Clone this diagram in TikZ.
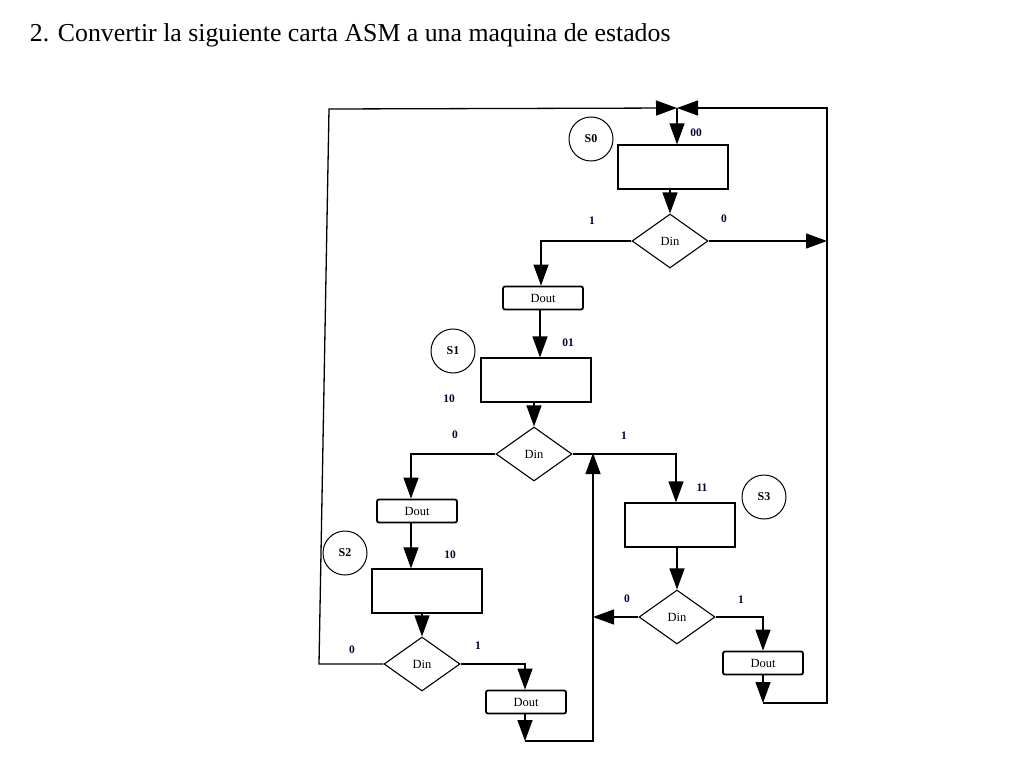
\documentclass[tikz,border=0pt]{standalone}
\usepackage{fontspec}
\setmainfont{Liberation Serif}
\usetikzlibrary{shapes.geometric,arrows.meta}
\begin{document}
\begin{tikzpicture}[x=1pt,y=-1pt,
  every path/.style={line width=1.3pt},
  arr/.style={-{Triangle[length=21pt,width=15pt]}},
  box/.style={draw,rectangle,line width=1.2pt,minimum width=110pt,minimum height=44pt,inner sep=0pt},
  dout/.style={draw,rectangle,line width=1.8pt,rounded corners=2pt,minimum width=80pt,minimum height=23pt,inner sep=0pt,font=\fontsize{12.5}{12.5}\selectfont},
  dec/.style={draw,diamond,line width=1.1pt,minimum width=76pt,minimum height=54pt,inner sep=0pt,font=\fontsize{12.5}{12.5}\selectfont},
  st/.style={draw,circle,line width=1pt,minimum size=44pt,inner sep=0pt,font=\fontsize{12}{12}\selectfont\bfseries},
  lb/.style={font=\fontsize{11.5}{11.5}\selectfont\bfseries,text=black!80!blue}]
\useasboundingbox (0,0) rectangle (1024,759);
\node[anchor=west,font=\fontsize{25.8}{26}\selectfont] (title) at (26,35) {2. Convertir la siguiente carta ASM a una maquina de estados};
% state 0
\coordinate (m) at (677,108);
\node[st] (s0) at (591,139) {S0};
\node[box] (b0) at (673,167) {};
\node[lb] (l00) at (696,133) {00};
\node[dec] (d0) at (670,241) {Din};
\node[lb] (d0a) at (592,221) {1};
\node[lb] (d0b) at (724,219) {0};
\node[dout] (o1) at (543,298) {Dout};
% state 1
\node[st] (s1) at (453,351) {S1};
\node[box] (b1) at (536,380) {};
\node[lb] (l01) at (568,343) {01};
\node[lb] (l10a) at (449,399) {10};
\node[dec] (d1) at (534,454) {Din};
\node[lb] (d1a) at (455,435) {0};
\node[lb] (d1b) at (624,436) {1};
\node[dout] (o2) at (417,511) {Dout};
% state 2
\node[st] (s2) at (345,553) {S2};
\node[box] (b2) at (427,591) {};
\node[lb] (l10b) at (450,555) {10};
\node[dec] (d2) at (422,664) {Din};
\node[lb] (d2a) at (352,650) {0};
\node[lb] (d2b) at (478,646) {1};
\node[dout] (o4) at (526,702) {Dout};
% state 3
\node[st] (s3) at (764,497) {S3};
\node[box] (b3) at (680,525) {};
\node[lb] (l11) at (702,488) {11};
\node[dec] (d3) at (677,617) {Din};
\node[lb] (d3a) at (627,599) {0};
\node[lb] (d3b) at (741,600) {1};
\node[dout] (o3) at (763,663) {Dout};
% coordinates
\coordinate (rt) at (827,108);
\coordinate (rb) at (827,703);
\coordinate (rm) at (827,241);
\coordinate (lt) at (329,109);
\coordinate (lb2) at (319,664);
\coordinate (vt) at (593,453);
\coordinate (vb) at (593,741);
\coordinate (vm) at (593,617);
\coordinate (e3) at (763,703);
\coordinate (e4) at (525,741);
% connectors
\draw[arr] (m) -- (m|-b0.north);
\draw[arr] (b0.south-|d0.north) -- (d0.north);
\draw[arr] (d0.west) -| (o1.north-|541,0);
\draw[arr] (d0.east) -- (rm);
\draw[arr] (o1.south-|540,0) -- (b1.north-|540,0);
\draw[arr] (b1.south-|d1.north) -- (d1.north);
\draw[arr] (d1.west) -| (o2.north-|411,0);
\draw[arr] (d1.east) -| (b3.north-|676,0);
\draw[arr] (o2.south-|411,0) -- (b2.north-|411,0);
\draw[arr] (b2.south-|d2.north) -- (d2.north);
\draw[arr] (d2.west) -- (lb2) -- (lt) -- (m);
\draw[arr] (d2.east) -| (o4.north-|525,0);
\draw[arr] (o4.south-|525,0) -- (e4);
\draw[arr] (e4) -- (vb) -- (vt);
\draw[arr] (b3.south-|d3.north) -- (d3.north);
\draw[arr] (d3.west) -- (vm);
\draw[arr] (d3.east) -| (o3.north);
\draw[arr] (o3.south) -- (e3);
\draw[arr] (e3) -- (rb) -- (rt) -- (m);
\end{tikzpicture}
\end{document}
